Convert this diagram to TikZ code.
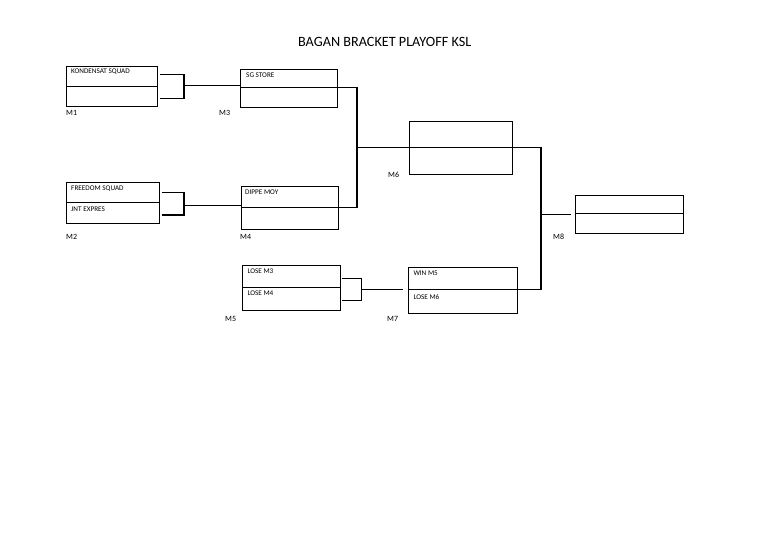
\documentclass[tikz,border=0pt]{standalone}
\usepackage{fontspec}
\setmainfont{Carlito}
\usetikzlibrary{calc}
\tikzset{
  half/.style={draw, line width=0.7pt, inner sep=0pt, outer sep=0pt, anchor=north west},
  conn/.style={line width=1.1pt},
  team/.style={font=\fontsize{7.2}{8}\selectfont, anchor=base west, inner sep=0pt},
  mlab/.style={font=\fontsize{8}{9}\selectfont, anchor=base west, inner sep=0pt},
}
\begin{document}
\begin{tikzpicture}[x=1pt,y=-1pt]
\fill[white] (0,0) rectangle (768,543);
\useasboundingbox (0,0) rectangle (768,543);
\node[font=\fontsize{14.2}{16}\selectfont] (title) at (384.7,41.5) {BAGAN BRACKET PLAYOFF KSL};
% M1
\node[half, minimum width=91, minimum height=20] (m1t) at (66,66) {};
\node[half, minimum width=91, minimum height=20] (m1b) at (66,86) {};
\node[team] (m1a) at (71,74) {KONDENSAT SQUAD};
\node[mlab] (l1) at (66,115) {M1};
% M3
\node[half, minimum width=97, minimum height=18] (sgt) at (240,69.3) {};
\node[half, minimum width=97, minimum height=20.4] (sgb) at (240,87.3) {};
\node[team] (sga) at (246,77.3) {SG STORE};
\node[mlab] (l3) at (219,115) {M3};
% M2
\node[half, minimum width=93, minimum height=20.4] (m2t) at (66,182.3) {};
\node[half, minimum width=93, minimum height=20.6] (m2b) at (66,202.7) {};
\node[team] (m2a) at (71,190.7) {FREEDOM SQUAD};
\node[team] (m2c) at (71,211.7) {JNT EXPRES};
\node[mlab] (l2) at (66,239) {M2};
% M4
\node[half, minimum width=96.6, minimum height=21] (dipt) at (241.7,186.7) {};
\node[half, minimum width=96.6, minimum height=21.3] (dipb) at (241.7,207.7) {};
\node[team] (dipa) at (245,194.3) {DIPPE MOY};
\node[mlab] (l4) at (240,239) {M4};
% M6
\node[half, minimum width=102.7, minimum height=26] (m6t) at (409.3,121.7) {};
\node[half, minimum width=102.7, minimum height=26.3] (m6b) at (409.3,147.7) {};
\node[mlab] (l6) at (388,177) {M6};
% M8
\node[half, minimum width=108.7, minimum height=18] (m8t) at (575,195.7) {};
\node[half, minimum width=108.7, minimum height=19.3] (m8b) at (575,213.7) {};
\node[mlab] (l8) at (553,239) {M8};
% M5
\node[half, minimum width=97.3, minimum height=22.3] (m5t) at (242.7,265) {};
\node[half, minimum width=97.3, minimum height=23.4] (m5b) at (242.7,287.3) {};
\node[team] (m5a) at (247.3,273.3) {LOSE M3};
\node[team] (m5c) at (247.3,295.7) {LOSE M4};
\node[mlab] (l5) at (225,321.5) {M5};
% M7
\node[half, minimum width=109, minimum height=21.6] (m7t) at (408.3,267.7) {};
\node[half, minimum width=109, minimum height=24.4] (m7b) at (408.3,289.3) {};
\node[team] (m7a) at (413.3,275.7) {WIN M5};
\node[team] (m7c) at (413.3,299.3) {LOSE M6};
\node[mlab] (l7) at (387,321.5) {M7};
% junctions
\coordinate (j1) at (184,85.5);
\coordinate (j2) at (184,205.7);
\coordinate (j3) at (357,147.7);
\coordinate (j5) at (361.7,289.7);
\coordinate (j6) at (541,214.3);
\coordinate (e5) at (402.7,289.7);
\coordinate (e8) at (571,214.3);
% connectors
\draw[conn] ([xshift=3pt,yshift=1.3pt]m1t.east) -| (j1) |- ([xshift=3pt,yshift=-2.3pt]m1b.east);
\draw[conn] (j1) -- (j1 -| sgt.west);
\draw[conn] ([xshift=2.7pt]m2t.east) -| (j2) |- ([xshift=2.7pt,yshift=-2pt]m2b.east);
\draw[conn] (j2) -- (j2 -| dipt.west);
\draw[conn] (sgt.south east) -| (j3);
\draw[conn] (dipt.south east) -| (j3);
\draw[conn] (j3) -- (m6t.south west);
\draw[conn] ([xshift=1.7pt,yshift=-2.3pt]m5t.east) -| (j5) |- ([xshift=1.7pt,yshift=-1.7pt]m5b.east);
\draw[conn] (j5) -- (e5);
\draw[conn] (m6t.south east) -| (j6);
\draw[conn] (m7t.south east) -| (j6);
\draw[conn] (j6) -- (e8);
\end{tikzpicture}
\end{document}
